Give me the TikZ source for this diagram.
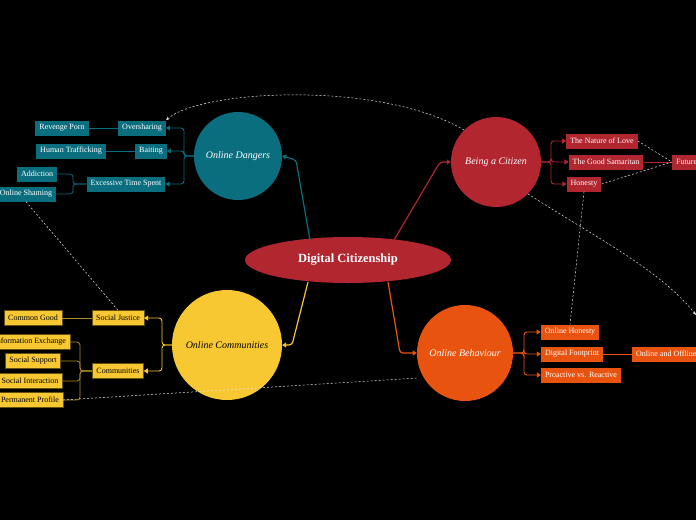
\documentclass[tikz,border=0pt]{standalone}
\usepackage{fontspec}
\setmainfont{Liberation Serif}
\usetikzlibrary{arrows.meta,shapes.geometric}
\definecolor{teal}{RGB}{11,110,127}
\definecolor{cred}{RGB}{178,38,48}
\definecolor{corange}{RGB}{232,84,15}
\definecolor{cyellow}{RGB}{247,200,50}
\begin{document}
\begin{tikzpicture}[x=1pt,y=-1pt,
 leaf/.style={fill=#1,text=white,font=\fontsize{8}{9}\selectfont,inner xsep=4pt,inner ysep=2pt,minimum height=15pt},
 yleaf/.style={fill=cyellow,draw=black!60!cyellow,text=black,font=\fontsize{8}{9}\selectfont,inner xsep=4pt,inner ysep=2pt,minimum height=15pt},
 link/.style={line width=1.2pt,draw=#1,-{Triangle[length=4pt,width=5pt]},rounded corners=3pt},
 plain/.style={line width=0.8pt,draw=#1},
 dsh/.style={white!80!gray,line width=0.5pt,dash pattern=on 2pt off 2pt}]
\fill[black] (0,0) rectangle (696,520);
\useasboundingbox (0,0) rectangle (696,520);
% central
\node[ellipse,fill=cred,minimum width=206,minimum height=46,text=white,font=\bfseries\fontsize{12.5}{13}\selectfont] (c) at (348,260) {Digital Citizenship};
% topics
\node[circle,fill=teal,minimum size=88,text=white,font=\itshape\fontsize{10}{11}\selectfont] (d) at (238,156) {Online Dangers};
\node[circle,fill=cred,minimum size=90,text=white,font=\itshape\fontsize{10}{11}\selectfont] (b) at (496,162) {Being a Citizen};
\node[circle,fill=cyellow,minimum size=110,text=black,font=\itshape\fontsize{10}{11}\selectfont] (oc) at (227,345) {Online Communities};
\node[circle,fill=corange,minimum size=96,text=white,font=\itshape\fontsize{10}{11}\selectfont] (ob) at (465,353) {Online Behaviour};
\draw[link=teal] (310,240) -- (296,160) -- (d.east);
\draw[link=cred] (394,240) -- (440,162) -- (b.west);
\draw[link=cyellow] (308,282) -- (292,345) -- (oc.east);
\draw[link=corange] (388,282) -- (400,353) -- (ob.west);
% dangers leaves
\node[leaf=teal] (os) at (142,128) {Oversharing};
\node[leaf=teal] (rp) at (62,128) {Revenge Porn};
\node[leaf=teal] (ba) at (151,151) {Baiting};
\node[leaf=teal] (ht) at (71,151) {Human Trafficking};
\node[leaf=teal] (et) at (126,184) {Excessive Time Spent};
\node[leaf=teal] (ad) at (37,174) {Addiction};
\node[leaf=teal] (sh) at (26,194) {Online Shaming};
\foreach \n in {os,ba,et}{\draw[link=teal,line width=0.9pt] (d.west) -| (184,0|-\n.east) -- (\n.east);}
\draw[plain=teal] (rp) -- (os); \draw[plain=teal] (ht) -- (ba);
\draw[plain=teal,rounded corners=3pt] (et.west) -| (73,174) -- (ad.east);
\draw[plain=teal,rounded corners=3pt] (et.west) -| (73,194) -- (sh.east);
% citizen leaves
\node[leaf=cred] (nl) at (602,141) {The Nature of Love};
\node[leaf=cred] (gs) at (606,162) {The Good Samaritan};
\node[leaf=cred] (ho) at (584,184) {Honesty};
\node[leaf=cred,anchor=west] (fu) at (672,162) {Future};
\foreach \n in {nl,gs,ho}{\draw[link=cred,line width=0.9pt] (b.east) -| (551,0|-\n.west) -- (\n.west);}
\draw[plain=cred] (gs) -- (fu);
% behaviour leaves
\node[leaf=corange] (oh) at (570,332) {Online Honesty};
\node[leaf=corange] (df) at (572,354) {Digital Footprint};
\node[leaf=corange] (pr) at (581,375) {Proactive vs. Reactive};
\node[leaf=corange,anchor=west] (oo) at (632,354) {Online and Offline};
\foreach \n in {oh,df,pr}{\draw[link=corange,line width=0.9pt] (ob.east) -| (524,0|-\n.west) -- (\n.west);}
\draw[plain=corange] (df) -- (oo);
% community leaves
\node[yleaf] (sj) at (118,318) {Social Justice};
\node[yleaf] (cg) at (33,318) {Common Good};
\node[yleaf] (co) at (118,371) {Communities};
\node[yleaf] (ie) at (30,342) {Information Exchange};
\node[yleaf] (ss) at (33,361) {Social Support};
\node[yleaf] (si) at (30,381) {Social Interaction};
\node[yleaf] (pp) at (30,400) {Permanent Profile};
\foreach \n in {sj,co}{\draw[link=cyellow,line width=0.9pt] (oc.west) -| (162,0|-\n.east) -- (\n.east);}
\draw[plain=cyellow!70!black] (cg) -- (sj);
\foreach \n in {ie,ss,si,pp}{\draw[plain=cyellow!70!black,rounded corners=3pt] (co.west) -| (80,0|-\n.east) -- (\n.east);}
% dashed relations
\draw[dsh,-{Stealth[length=4pt]}] (b.north west) .. controls (380,80) and (200,90) .. (os.north east);
\draw[dsh,-{Stealth[length=4pt]}] (b.south east) .. controls (600,240) and (660,270) .. (696,315);
\draw[dsh] (ho.south) -- (oh.north);
\draw[dsh] (nl.east) -- (fu.west);
\draw[dsh] (ho.east) -- (fu.west);
\draw[dsh] (sh.south) -- (sj.north);
\draw[dsh] (pp.east) -- (ob.west|-0,378);
\end{tikzpicture}
\end{document}
